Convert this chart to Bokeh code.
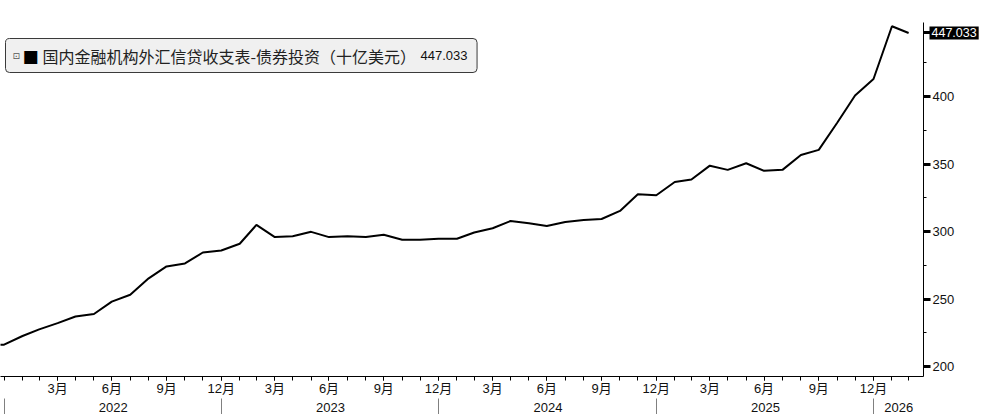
import pandas as pd
from bokeh.plotting import figure
from bokeh.models import Range1d, LinearAxis, FixedTicker, CustomJSTickFormatter, Label
from bokeh.embed import file_html
from bokeh.resources import INLINE

# ---------------- data ----------------
months = [
    "2021-11", "2021-12",
    "2022-01", "2022-02", "2022-03", "2022-04", "2022-05", "2022-06",
    "2022-07", "2022-08", "2022-09", "2022-10", "2022-11", "2022-12",
    "2023-01", "2023-02", "2023-03", "2023-04", "2023-05", "2023-06",
    "2023-07", "2023-08", "2023-09", "2023-10", "2023-11", "2023-12",
    "2024-01", "2024-02", "2024-03", "2024-04", "2024-05", "2024-06",
    "2024-07", "2024-08", "2024-09", "2024-10", "2024-11", "2024-12",
    "2025-01", "2025-02", "2025-03", "2025-04", "2025-05", "2025-06",
    "2025-07", "2025-08", "2025-09", "2025-10", "2025-11", "2025-12",
    "2026-01", "2026-02",
]
values = [
    216.3, 216.3,
    222.7, 227.6, 232.2, 237.1, 239.0, 248.1,
    253.2, 265.4, 274.2, 276.4, 284.5, 286.0,
    291.0, 304.9, 295.9, 296.6, 299.8, 295.9,
    296.6, 295.9, 297.6, 293.9, 293.9, 294.7,
    294.7, 299.3, 302.5, 307.8, 306.2, 304.2,
    307.1, 308.6, 309.3, 315.3, 327.6, 326.9,
    336.7, 338.6, 348.8, 345.7, 350.6, 345.0,
    345.7, 356.7, 360.5, 380.6, 400.8, 413.0,
    452.0, 447.033,
]
series_name = "国内金融机构外汇信贷收支表-债券投资（十亿美元）"
last_value_text = "447.033"
quarter_months = [3, 6, 9, 12]
quarter_labels = ["3月", "6月", "9月", "12月"]
years = [2022, 2023, 2024, 2025, 2026]
year_labels = ["2022", "2023", "2024", "2025", "2026"]
y_ticks = [200, 250, 300, 350, 400]
y_tick_labels = ["200", "250", "300", "350", "400"]
y_minor_ticks = [225, 275, 325, 375, 425]
x_start, x_end = "2021-12-25", "2026-03-25"
y_start, y_end = 192.7, 454.8


def ms(ts):
    return pd.Timestamp(ts).value // 10**6


DAY = 86400000
xs = [ms(pd.Timestamp(m) + pd.offsets.MonthEnd(0)) for m in months]
x0, x1 = ms(x_start), ms(x_end)

all_month_ends = pd.date_range(x_start, x_end, freq=pd.offsets.MonthEnd())
minor_month_ticks = [ms(d) for d in all_month_ends]
q_ticks, q_labels = [], []
for d in all_month_ends:
    if d.month in quarter_months and ms(d) - x0 > 12 * DAY and x1 - ms(d) > 12 * DAY:
        q_ticks.append(ms(d))
        q_labels.append(quarter_labels[quarter_months.index(d.month)])

year_sep = []
year_pos = []
for y in years:
    a = max(ms(f"{y}-01-01"), x0)
    b = min(ms(f"{y + 1}-01-01"), x1)
    year_pos.append((a + b) / 2)
    sep = ms(f"{y - 1}-12-31")
    if x0 <= sep <= x1:
        year_sep.append(sep)

fmt_code = """
let best = -1, bd = Infinity;
for (let i = 0; i < tvals.length; i++) {
  const d = Math.abs(tvals[i] - tick);
  if (d < bd) { bd = d; best = i; }
}
return bd <= tol ? tlabels[best] : "";
"""

# ---------------- figure ----------------
FRAME_TOP = 22
p = figure(width=981, height=414,
           x_range=Range1d(x0, x1), y_range=Range1d(y_start, y_end),
           x_axis_type=None, y_axis_type=None,
           output_backend="svg", toolbar_location=None,
           min_border_left=0, min_border_top=FRAME_TOP, min_border_right=58,
           min_border_bottom=0)
p.outline_line_color = None
p.background_fill_color = "white"
p.border_fill_color = "white"

p.line(x=xs, y=values, line_color="black", line_width=2)

AX_FONT = "Liberation Sans, Noto Sans CJK SC"

xa = LinearAxis(
    ticker=FixedTicker(ticks=q_ticks, minor_ticks=minor_month_ticks),
    formatter=CustomJSTickFormatter(args=dict(tvals=q_ticks, tlabels=q_labels, tol=DAY),
                                    code=fmt_code),
)
xa.axis_line_color = "black"
xa.major_tick_line_color = "black"
xa.minor_tick_line_color = "black"
xa.major_tick_in = 0
xa.major_tick_out = 4
xa.minor_tick_in = 0
xa.minor_tick_out = 4
xa.major_label_standoff = 0
xa.major_label_text_font = AX_FONT
xa.major_label_text_font_size = "13px"
xa.major_label_text_color = "#111111"
p.add_layout(xa, "below")

ya2 = LinearAxis(
    ticker=FixedTicker(ticks=year_pos, minor_ticks=year_sep),
    formatter=CustomJSTickFormatter(args=dict(tvals=year_pos, tlabels=year_labels, tol=DAY),
                                    code=fmt_code),
)
ya2.axis_line_color = None
ya2.major_tick_line_color = None
ya2.major_tick_in = 0
ya2.major_tick_out = 0
ya2.minor_tick_line_color = "#808080"
ya2.minor_tick_in = 0
ya2.minor_tick_out = 18
ya2.major_label_standoff = -14
ya2.major_label_text_font = AX_FONT
ya2.major_label_text_font_size = "13px"
ya2.major_label_text_color = "#111111"
p.add_layout(ya2, "below")

# right value axis; the last value also gets a tick that acts as the tag's pointer
yr = LinearAxis(
    ticker=FixedTicker(ticks=y_ticks + [values[-1]], minor_ticks=y_minor_ticks),
    formatter=CustomJSTickFormatter(args=dict(tvals=y_ticks, tlabels=y_tick_labels, tol=1e-6),
                                    code=fmt_code),
)
yr.axis_line_color = "black"
yr.major_tick_line_color = "black"
yr.major_tick_line_width = 3
yr.major_tick_in = 0
yr.major_tick_out = 7
yr.minor_tick_line_color = "black"
yr.minor_tick_in = 0
yr.minor_tick_out = 3
yr.major_label_standoff = 2
yr.major_label_text_font = "Liberation Sans"
yr.major_label_text_font_size = "13px"
yr.major_label_text_color = "#111111"
p.add_layout(yr, "right")

# last value tag (in the top side panel so it is drawn outside the frame)
p.add_layout(Label(x=x1, y=values[-1], x_offset=6, text=last_value_text,
                   text_color="white", text_font="Liberation Sans", text_font_size="12.5px",
                   text_baseline="middle", text_align="left",
                   background_fill_color="black", padding=2), "above")

# legend box
BL, BT, PAD = 5, 38 - FRAME_TOP, 5
p.add_layout(Label(x=x0, y=y_end, x_offset=BL, y_offset=-BT,
                   text="\u3000\u3000" + series_name + "\u3000\u3000\u3000\u3000",
                   text_font="Noto Sans CJK SC", text_font_size="16px",
                   text_color="#222222", text_align="left", text_baseline="top",
                   background_fill_color="#f0f0f0", border_line_color="#3a3a3a",
                   border_line_width=1, border_radius=4, padding=PAD))
p.add_layout(Label(x=x0, y=y_end, x_offset=BL + 7, y_offset=-(BT + 17),
                   text="⊡", text_font="DejaVu Sans", text_font_size="9px",
                   text_color="#555555", text_align="left", text_baseline="middle"))
p.add_layout(Label(x=x0, y=y_end, x_offset=BL + 17, y_offset=-(BT + 17),
                   text="■", text_font="DejaVu Sans", text_font_size="17px",
                   text_color="black", text_align="left", text_baseline="middle"))
p.add_layout(Label(x=x0, y=y_end, x_offset=BL + 415, y_offset=-(BT + 17),
                   text=last_value_text, text_font="Liberation Sans", text_font_size="13px",
                   text_color="#111111", text_align="left", text_baseline="middle"))

open("out.html", "w").write(file_html(p, INLINE))
